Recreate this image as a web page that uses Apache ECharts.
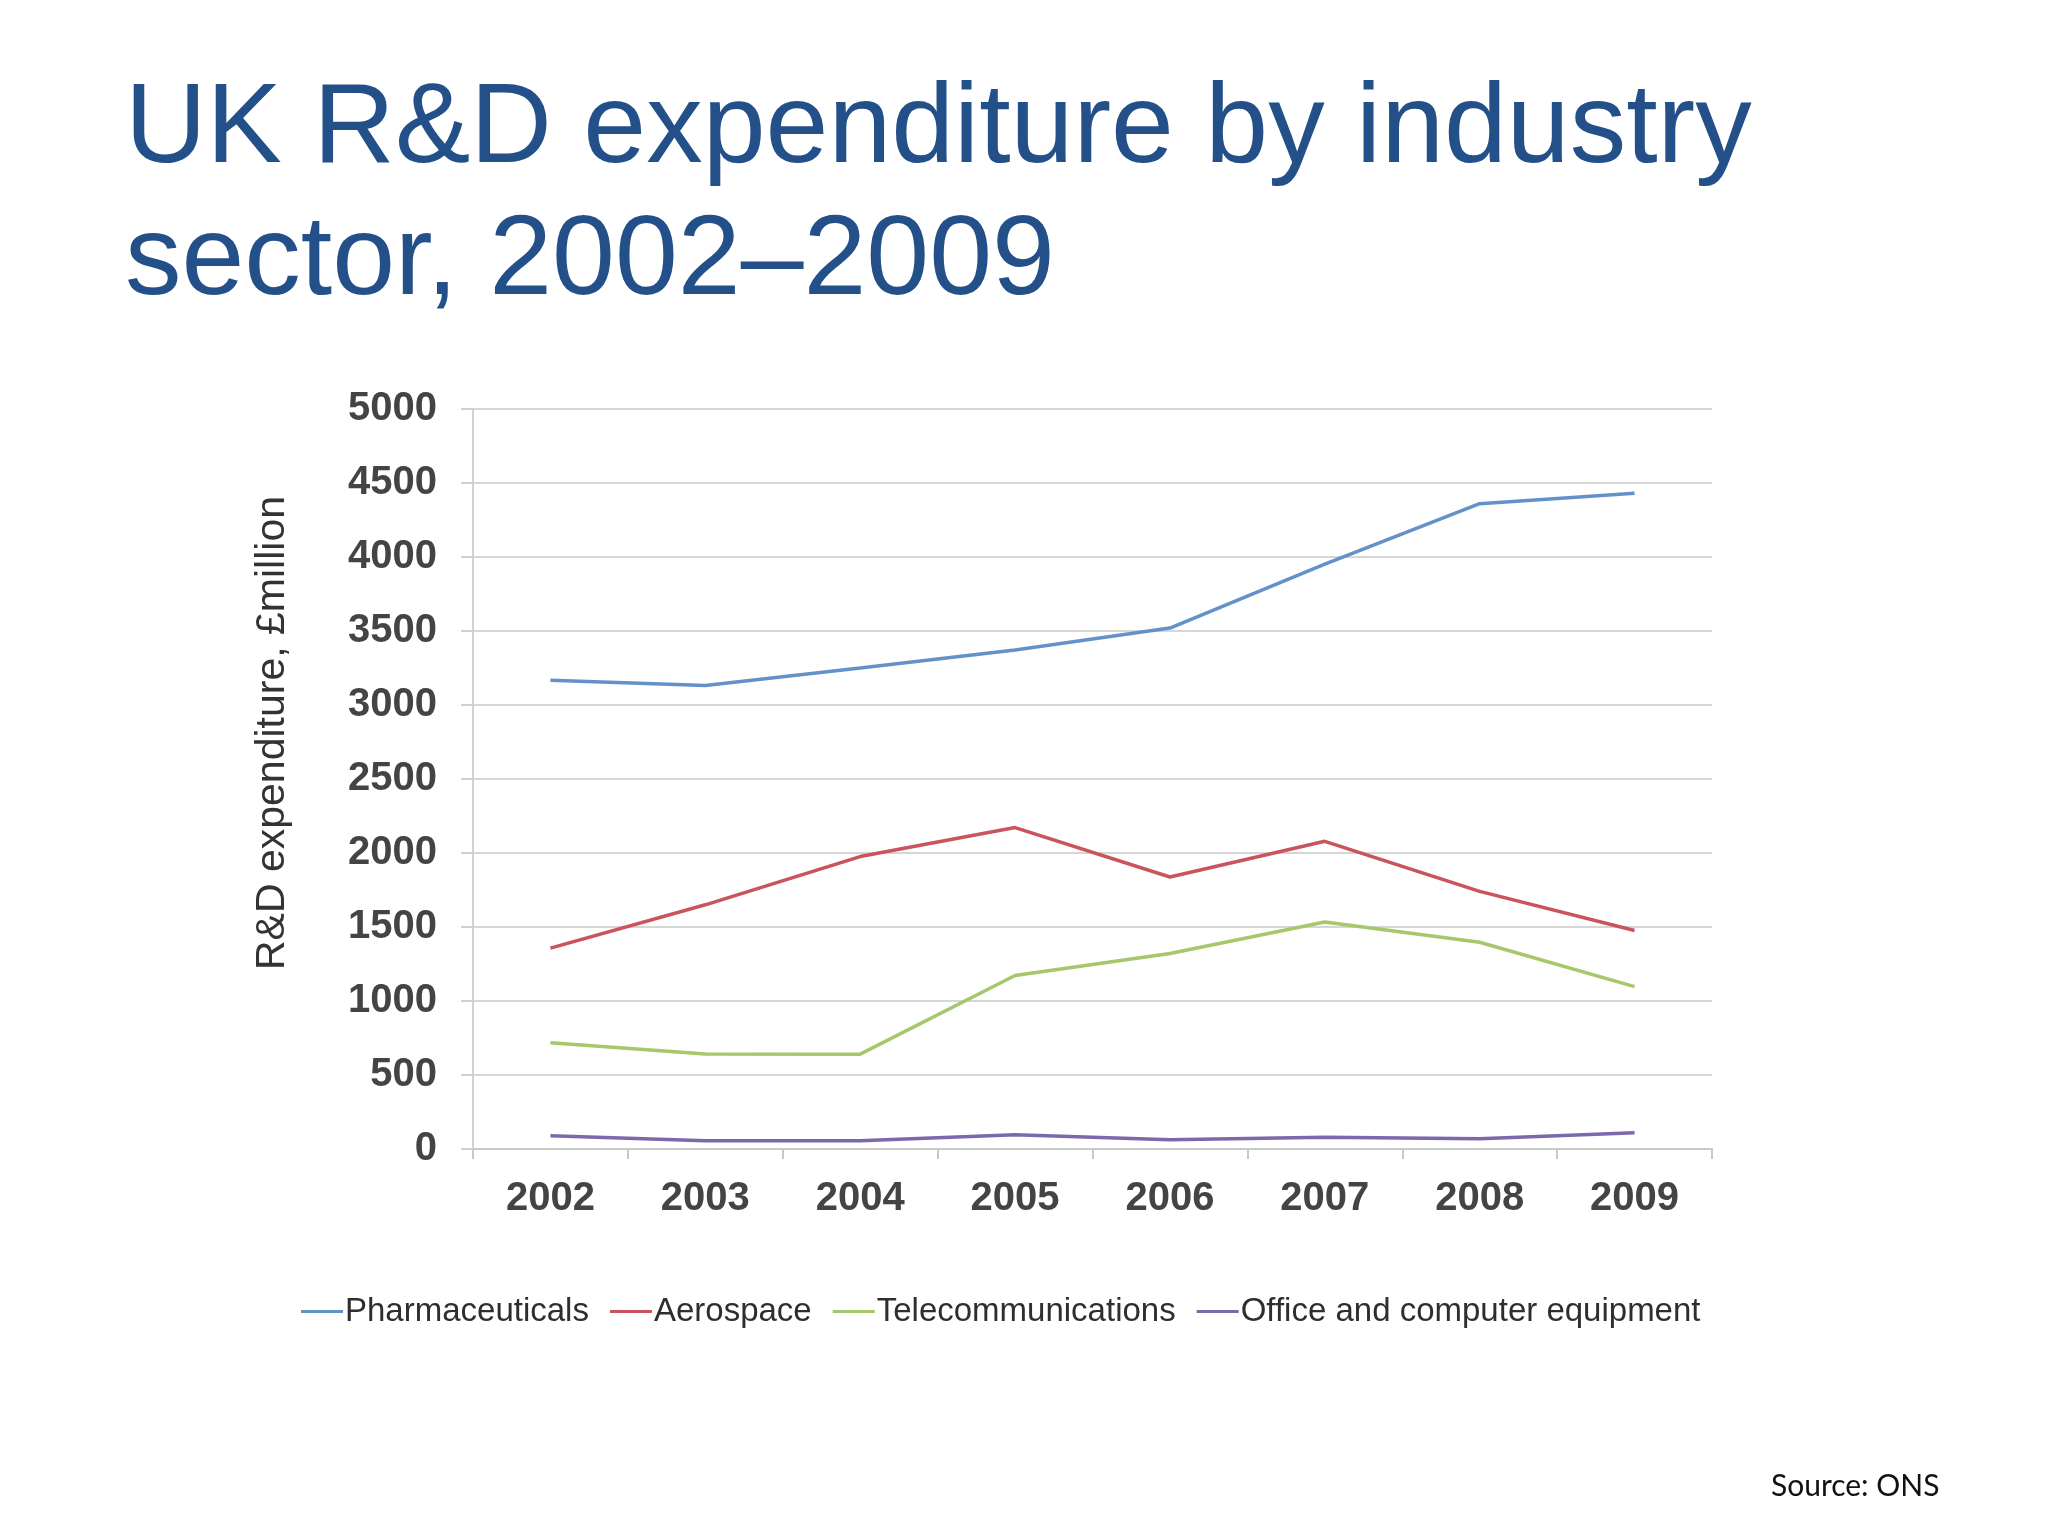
<!DOCTYPE html>
<html>
<head>
<meta charset="utf-8">
<script src="https://cdn.jsdelivr.net/npm/echarts@6/dist/echarts.min.js"></script>
<style>
  html, body { margin: 0; padding: 0; background: #fff; }
  #myChart { width: 2048px; height: 1536px; }
</style>
</head>
<body>
<div id="myChart"></div>
<script>
// chart data
const years = ['2002', '2003', '2004', '2005', '2006', '2007', '2008', '2009']
const yTicks = [0, 500, 1000, 1500, 2000, 2500, 3000, 3500, 4000, 4500, 5000]
const pharmaceuticals = [3168, 3132, 3250, 3372, 3520, 3952, 4360, 4430]
const aerospace = [1357, 1650, 1976, 2172, 1838, 2079, 1741, 1476]
const telecommunications = [718, 642, 641, 1172, 1321, 1534, 1397, 1097]
const officeEquipment = [90, 55, 55, 97, 62, 79, 69, 110]

const seriesNames = ['Pharmaceuticals', 'Aerospace', 'Telecommunications', 'Office and computer equipment']
const seriesColors = ['#6391c9', '#c9545e', '#a6c76a', '#7d68ab']
const seriesData = [pharmaceuticals, aerospace, telecommunications, officeEquipment]

const option = {
  backgroundColor: '#ffffff',
  animation: false,
  title: [
    {
      text: 'UK R&D expenditure by industry\nsector, 2002\u20132009',
      left: 120,
      top: 60,
      textStyle: {
        fontFamily: 'Liberation Sans',
        fontSize: 113,
        fontWeight: 'normal',
        lineHeight: 132,
        color: '#24508a'
      }
    },
    {
      text: 'Source: ONS',
      left: 1766,
      top: 1466,
      textStyle: {
        fontFamily: 'Lato',
        fontSize: 30,
        fontWeight: 'normal',
        color: '#111'
      }
    }
  ],
  legend: {
    data: seriesNames,
    left: 296,
    top: 1290,
    icon: 'rect',
    itemWidth: 42,
    itemHeight: 3,
    itemGap: 21,
    textStyle: {
      fontFamily: 'Liberation Sans',
      fontSize: 33,
      color: '#2e2e2e',
      padding: [0, 0, 0, -3]
    }
  },
  grid: {
    left: 473,
    right: 336,
    top: 409,
    bottom: 387
  },
  xAxis: {
    type: 'category',
    boundaryGap: true,
    data: years,
    axisLine: { lineStyle: { color: '#c8c8c8', width: 2 } },
    axisTick: { show: true, length: 10, lineStyle: { color: '#c8c8c8', width: 2 } },
    axisLabel: {
      margin: 30,
      fontFamily: 'Liberation Sans',
      fontSize: 40,
      fontWeight: 'bold',
      color: '#444'
    }
  },
  yAxis: {
    type: 'value',
    min: yTicks[0],
    max: yTicks[yTicks.length - 1],
    interval: 500,
    name: 'R&D expenditure, \u00a3million',
    nameLocation: 'middle',
    nameGap: 180,
    nameTextStyle: {
      fontFamily: 'Liberation Sans',
      fontSize: 41,
      color: '#333',
      padding: [0, 0, 0, 92]
    },
    axisLine: { show: true, lineStyle: { color: '#d0d0d0', width: 2 } },
    axisTick: { show: true, length: 12, lineStyle: { color: '#d0d0d0', width: 2 } },
    splitLine: { lineStyle: { color: '#d6d6d6', width: 2 } },
    axisLabel: {
      margin: 36,
      fontFamily: 'Liberation Sans',
      fontSize: 40,
      fontWeight: 'bold',
      color: '#444',
      formatter: (v) => String(v)
    }
  },
  series: seriesNames.map((name, i) => ({
    name: name,
    type: 'line',
    data: seriesData[i],
    symbol: 'none',
    color: seriesColors[i],
    lineStyle: { width: 3.5, color: seriesColors[i] }
  }))
}

const myChart = echarts.init(document.getElementById('myChart'))
myChart.setOption(option)
</script>
</body>
</html>
